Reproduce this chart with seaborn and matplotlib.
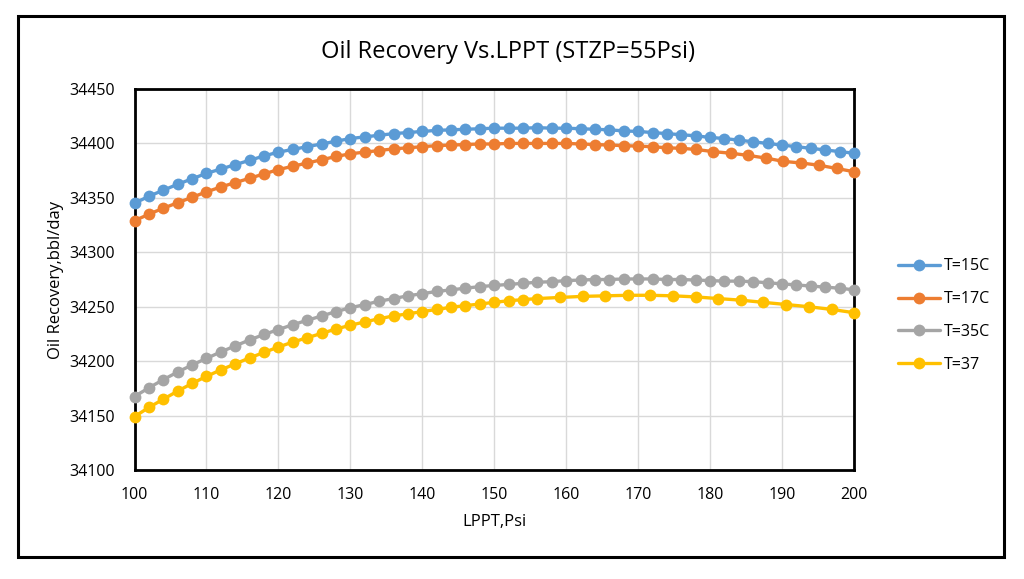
import numpy as np
import pandas as pd
import matplotlib
matplotlib.use("Agg")
import matplotlib.pyplot as plt
from matplotlib.patches import Rectangle
import seaborn as sns

# ---------------- data ----------------
x_t15 = [100, 102, 104, 106, 108, 110, 112, 114, 116, 118, 120, 122, 124, 126, 128,
         130, 132, 134, 136, 138, 140, 142, 144, 146, 148, 150, 152, 154, 156, 158,
         160, 162, 164, 166, 168, 170, 172, 174, 176, 178, 180, 182, 184, 186, 188,
         190, 192, 194, 196, 198, 200]
y_t15 = [34345, 34351.5, 34357, 34362.5, 34367.5, 34372.5, 34376.5, 34380.5, 34384.5, 34388.5,
         34392, 34394.5, 34397, 34399.5, 34402, 34404.5, 34406, 34407.5, 34409, 34410,
         34411, 34412, 34412.5, 34413, 34413.5, 34414, 34414, 34414, 34414.5, 34414,
         34414, 34413.5, 34413, 34412.5, 34411.5, 34411, 34410, 34409, 34408, 34407,
         34405.5, 34404.5, 34403, 34401.5, 34400, 34398.5, 34397, 34395.5, 34394, 34392.5,
         34391]

x_t17 = [100, 102, 104, 106, 108, 110, 112, 114, 116, 118, 120, 122, 124, 126, 128,
         130, 132, 134, 136, 138, 140, 142, 144, 146, 148, 150, 152, 154, 156, 158,
         160, 162, 164, 166, 168, 170, 172, 174, 176, 178,
         180.4, 182.9, 185.3, 187.8, 190.2, 192.7, 195.1, 197.6, 200]
y_t17 = [34329, 34335, 34340.5, 34345.5, 34350.5, 34355.5, 34360, 34364, 34368, 34372,
         34376, 34379, 34382, 34385, 34388, 34390.5, 34392, 34393.5, 34395, 34396,
         34397, 34398, 34398.5, 34399, 34399.5, 34399.5, 34400, 34400, 34400, 34400,
         34400, 34399.5, 34399, 34398.5, 34398, 34397.5, 34397, 34396, 34395.5, 34394.5,
         34392.5, 34391, 34389, 34386.5, 34383.5, 34382, 34380, 34377, 34374]

x_t35 = list(x_t15)
y_t35 = [34167.5, 34175.5, 34183, 34190, 34196.5, 34202.5, 34208.5, 34214, 34219.5, 34224.5,
         34229, 34233.5, 34237.5, 34241.5, 34245.5, 34249, 34252, 34255, 34257.5, 34260,
         34262, 34264, 34265.5, 34267, 34268.5, 34269.5, 34270.5, 34271.5, 34272.5, 34273,
         34274, 34274.5, 34275, 34275, 34275.5, 34275.5, 34275.5, 34275, 34275, 34274.5,
         34274, 34273.5, 34273.5, 34273, 34272, 34271, 34270, 34269, 34268, 34267,
         34265.5]

x_t37 = [100, 102, 104, 106, 108, 110, 112, 114, 116, 118, 120, 122, 124, 126, 128,
         130, 132, 134, 136, 138, 140, 142, 144, 146, 148, 150, 152, 154, 156,
         159.1, 162.3, 165.4, 168.6, 171.7, 174.9, 178.0, 181.1, 184.3, 187.4,
         190.6, 193.7, 196.9, 200]
y_t37 = [34149, 34157.5, 34165, 34172.5, 34179.5, 34186, 34192, 34197.5, 34203, 34208,
         34213, 34217.5, 34221.5, 34225.5, 34229.5, 34233, 34236, 34239, 34241.5, 34243.5,
         34245.5, 34247.5, 34249.5, 34251, 34252.5, 34254, 34255.5, 34256.5, 34257.5,
         34258.5, 34259.5, 34260, 34260.5, 34260.5, 34260, 34259, 34257.5, 34256, 34254,
         34252, 34250, 34247.5, 34244.5]

series_names = ["T=15C", "T=17C", "T=35C", "T=37"]
series_colors = ["#5B9BD5", "#ED7D31", "#A5A5A5", "#FFC000"]
x_ticks = [100, 110, 120, 130, 140, 150, 160, 170, 180, 190, 200]
y_ticks = [34100, 34150, 34200, 34250, 34300, 34350, 34400, 34450]

title_text = "Oil Recovery Vs.LPPT (STZP=55Psi)"
x_label = "LPPT,Psi"
y_label = "Oil Recovery,bbl/day"

# ---------------- build frame ----------------
frames = []
for name, xs, ys in zip(series_names,
                        [x_t15, x_t17, x_t35, x_t37],
                        [y_t15, y_t17, y_t35, y_t37]):
    frames.append(pd.DataFrame({"LPPT": xs, "Recovery": ys, "Series": name}))
df = pd.concat(frames, ignore_index=True)

# ---------------- plot ----------------
sns.set_theme(style="white")
plt.rcParams["font.family"] = ["Open Sans", "DejaVu Sans"]
plt.rcParams["text.color"] = "black"
plt.rcParams["axes.labelcolor"] = "black"

fig = plt.figure(figsize=(10.24, 5.79), dpi=100)
ax = fig.add_axes([134.5 / 1024, 1 - 470 / 579, (854 - 134.5) / 1024, (470 - 89) / 579])

sns.lineplot(data=df, x="LPPT", y="Recovery", hue="Series",
             hue_order=series_names, palette=series_colors,
             marker="o", markersize=8.5, markeredgewidth=0, linewidth=2.4,
             estimator=None, sort=False, ax=ax, zorder=3)

ax.set_xlim(100, 200)
ax.set_ylim(34100, 34450)
ax.set_xticks(x_ticks)
ax.set_yticks(y_ticks)
ax.tick_params(axis="both", length=0, labelsize=11.5, colors="black")
ax.tick_params(axis="y", pad=14)
ax.tick_params(axis="x", pad=12)
ax.grid(True, color="#D9D9D9", linewidth=1.0)
ax.set_axisbelow(True)
for sp in ax.spines.values():
    sp.set_color("black")
    sp.set_linewidth(2.0)
    sp.set_visible(True)
for ln in ax.lines:
    ln.set_clip_on(False)

ax.set_xlabel(x_label, fontsize=12, labelpad=8, color="black")
ax.set_ylabel(y_label, fontsize=12, labelpad=4, color="black")

fig.text(508 / 1024, 1 - 52 / 579, title_text, ha="center", va="center",
         fontsize=17, color="black")

handles, labels = ax.get_legend_handles_labels()
leg = ax.legend(handles, labels, loc="upper left", bbox_to_anchor=(884 / 1024, 1 - 244 / 579),
                bbox_transform=fig.transFigure, frameon=False, fontsize=11.5,
                handlelength=2.6, handletextpad=0.25, labelspacing=1.05)
for t in leg.get_texts():
    t.set_color("black")

# outer chart frame
fig.patches.append(Rectangle((18 / 1024, 1 - 557 / 579), (1004 - 18) / 1024, (557 - 16) / 579,
                             transform=fig.transFigure, fill=False, edgecolor="black",
                             linewidth=2.2))

fig.savefig("out.png", dpi=100)
